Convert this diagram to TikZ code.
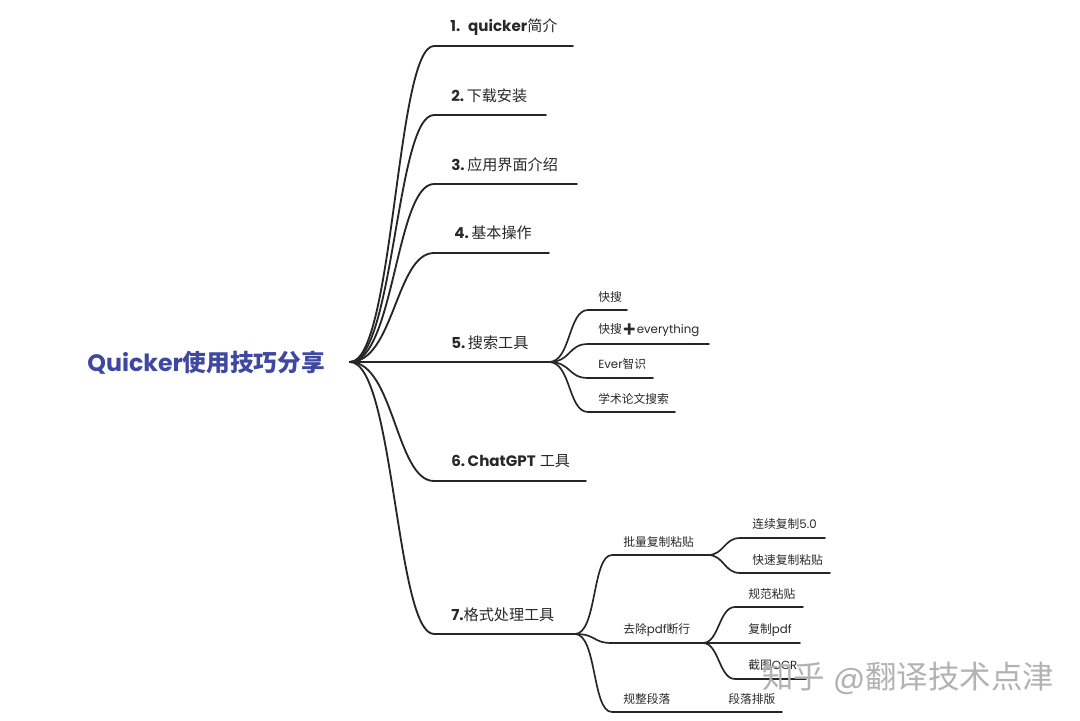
\documentclass[tikz,border=0pt]{standalone}
\usepackage{fontspec}
\setmainfont{Poppins}
\newfontfamily\cjk{Noto Sans CJK SC}
\newfontfamily\plusfont{Noto Emoji}
\usepackage{xcolor}
\definecolor{titleblue}{RGB}{62,72,160}
\definecolor{inkgray}{RGB}{40,40,40}
\begin{document}
\begin{tikzpicture}[x=0.02cm,y=-0.02cm]

\tikzset{
  label base/.style={anchor=west, inner sep=0pt, text=inkgray},
  title/.style={label base, text=titleblue, font=\fontsize{13.5}{16}\selectfont\bfseries},
  topic/.style={label base, font=\fontsize{8.6}{10}\selectfont},
  subtopic/.style={label base, font=\fontsize{6.7}{8}\selectfont},
  watermark/.style={label base, text=black!30, font=\fontsize{17.9}{20}\selectfont},
  branch/.style={draw=black!85, line width=1.05pt, line cap=round},
  twig/.style={draw=black!85, line width=0.95pt, line cap=round}
}

\useasboundingbox (0,0) rectangle (1080,721);

% hubs
\coordinate (root) at (350,362);
\coordinate (hub5) at (549,362);
\coordinate (hub7) at (575,634);
\coordinate (hub7a) at (708,555);
\coordinate (hub7b) at (703,643);

% title and topics
\node[title] (title) at (87,362.5) {Quicker{\cjk 使用技巧分享}};
\node[topic] (t1) at (450,27) {\textbf{1.}\, \textbf{quicker}{\cjk 简介}};
\node[topic] (t2) at (451,96) {\textbf{2.}\,{\cjk 下载安装}};
\node[topic] (t3) at (451,165) {\textbf{3.}\,{\cjk 应用界面介绍}};
\node[topic] (t4) at (454,233) {\textbf{4.}\,{\cjk 基本操作}};
\node[topic] (t5) at (451,343) {\textbf{5.}\,{\cjk 搜索工具}};
\node[topic] (t6) at (451,461) {\textbf{6.}\,\textbf{ChatGPT} {\cjk 工具}};
\node[topic] (t7) at (451,615) {\textbf{7.}{\cjk 格式处理工具}};

% topic 5 leaves
\node[subtopic] (s1) at (598,297) {\cjk 快搜};
\node[subtopic] (s2) at (598,330.5) {{\cjk 快搜}{\plusfont ➕}everything};
\node[subtopic] (s3) at (598,364) {Ever{\cjk 智识}};
\node[subtopic] (s4) at (598,398.5) {\cjk 学术论文搜索};

% topic 7 leaves
\node[subtopic] (f1) at (623,542) {\cjk 批量复制粘贴};
\node[subtopic] (f2) at (623,630.5) {{\cjk 去除}pdf{\cjk 断行}};
\node[subtopic] (f3) at (623,699) {\cjk 规整段落};
\node[subtopic] (g1) at (752,524) {{\cjk 连续复制}5.0};
\node[subtopic] (g2) at (752,560) {\cjk 快速复制粘贴};
\node[subtopic] (g3) at (748,594) {\cjk 规范粘贴};
\node[subtopic] (g4) at (748,630.5) {{\cjk 复制}pdf};
\node[subtopic] (g5) at (748,665) {{\cjk 截图}OCR};
\node[subtopic] (g6) at (728,699) {\cjk 段落排版};

% line ends
\coordinate (t1a) at (434,46);  \coordinate (t1b) at (573,46);
\coordinate (t2a) at (434,115); \coordinate (t2b) at (546,115);
\coordinate (t3a) at (434,184); \coordinate (t3b) at (577,184);
\coordinate (t4a) at (434,253); \coordinate (t4b) at (549,253);
\coordinate (t6a) at (434,481); \coordinate (t6b) at (586,481);
\coordinate (t7a) at (434,634);
\coordinate (s1a) at (588,310); \coordinate (s1b) at (627,310);
\coordinate (s2a) at (588,344); \coordinate (s2b) at (709,344);
\coordinate (s3a) at (588,378); \coordinate (s3b) at (653,378);
\coordinate (s4a) at (588,412); \coordinate (s4b) at (675,412);
\coordinate (f1a) at (612,555);
\coordinate (f2a) at (612,643);
\coordinate (f3a) at (612,712); \coordinate (f3b) at (782,712);
\coordinate (g1a) at (740,538); \coordinate (g1b) at (825,538);
\coordinate (g2a) at (740,573); \coordinate (g2b) at (830,573);
\coordinate (g3a) at (735,607); \coordinate (g3b) at (803,607);
\coordinate (g4b) at (800,643);
\coordinate (g5a) at (735,679); \coordinate (g5b) at (806,679);

% main branches
\draw[branch] (root) .. controls +(44,0) and +(-38,0) .. (t1a) -- (t1b);
\draw[branch] (root) .. controls +(44,0) and +(-38,0) .. (t2a) -- (t2b);
\draw[branch] (root) .. controls +(44,0) and +(-38,0) .. (t3a) -- (t3b);
\draw[branch] (root) .. controls +(44,0) and +(-38,0) .. (t4a) -- (t4b);
\draw[branch] (root) -- (hub5);
\draw[branch] (root) .. controls +(44,0) and +(-38,0) .. (t6a) -- (t6b);
\draw[branch] (root) .. controls +(44,0) and +(-38,0) .. (t7a) -- (hub7);

% twigs of topic 5
\draw[twig] (hub5) .. controls +(22,0) and +(-20,0) .. (s1a) -- (s1b);
\draw[twig] (hub5) .. controls +(22,0) and +(-20,0) .. (s2a) -- (s2b);
\draw[twig] (hub5) .. controls +(22,0) and +(-20,0) .. (s3a) -- (s3b);
\draw[twig] (hub5) .. controls +(22,0) and +(-20,0) .. (s4a) -- (s4b);

% twigs of topic 7
\draw[twig] (hub7) .. controls +(22,0) and +(-20,0) .. (f1a) -- (hub7a);
\draw[twig] (hub7) .. controls +(22,0) and +(-20,0) .. (f2a) -- (hub7b);
\draw[twig] (hub7) .. controls +(22,0) and +(-20,0) .. (f3a) -- (f3b);
\draw[twig] (hub7a) .. controls +(16,0) and +(-16,0) .. (g1a) -- (g1b);
\draw[twig] (hub7a) .. controls +(16,0) and +(-16,0) .. (g2a) -- (g2b);
\draw[twig] (hub7b) .. controls +(16,0) and +(-16,0) .. (g3a) -- (g3b);
\draw[twig] (hub7b) -- (g4b);
\draw[twig] (hub7b) .. controls +(16,0) and +(-16,0) .. (g5a) -- (g5b);

% site mark on top
\node[watermark] (mark) at (762,678) {{\cjk 知乎} @{\cjk 翻译技术点津}};

\end{tikzpicture}
\end{document}
